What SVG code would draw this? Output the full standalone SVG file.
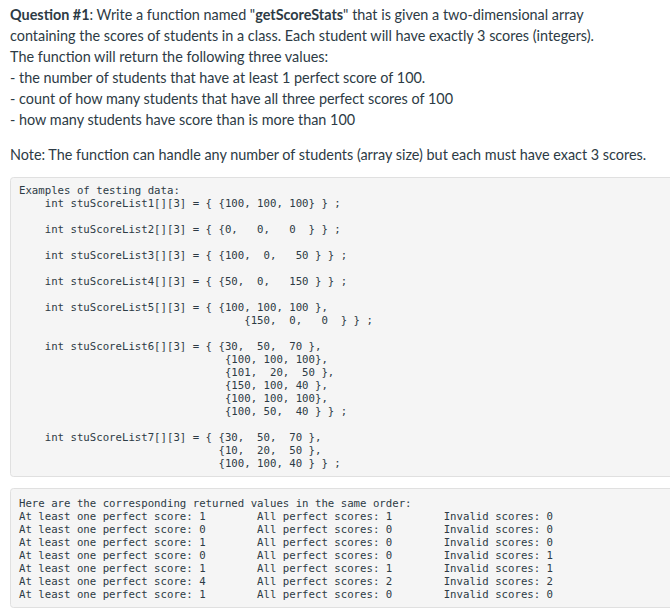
<svg xmlns="http://www.w3.org/2000/svg" width="670" height="613" viewBox="0 0 670 613">
<style>
.t{font-family:Lato,"Liberation Sans",sans-serif;font-size:14.4px;fill:#2d3b45}
.m{font-family:"DejaVu Sans Mono","Liberation Mono",monospace;font-size:10.7px;fill:#2d3b45;white-space:pre}
.box{fill:#f5f5f5;stroke:#e0e0e0}
</style>
<rect width="670" height="613" fill="#fff"/>
<g id="question">
<text class="t" x="10" y="20"><tspan font-weight="bold">Question #1</tspan>: Write a function named "<tspan font-weight="bold">getScoreStats</tspan>" that is given a two-dimensional array</text>
<text class="t" x="10" y="41">containing the scores of students in a class. Each student will have exactly 3 scores (integers).</text>
<text class="t" x="10" y="62">The function will return the following three values:</text>
<text class="t" x="10" y="83">- the number of students that have at least 1 perfect score of 100.</text>
<text class="t" x="10" y="104">- count of how many students that have all three perfect scores of 100</text>
<text class="t" x="10" y="125">- how many students have score than is more than 100</text>
<text class="t" x="10" y="160">Note: The function can handle any number of students (array size) but each must have exact 3 scores.</text>
</g>
<g id="examples">
<rect class="box" x="10.5" y="177.5" width="670" height="299" rx="3"/>
<text class="m" x="19" xml:space="preserve"><tspan x="19" y="194">Examples of testing data:</tspan><tspan x="19" y="207">    int stuScoreList1[][3] = { {100, 100, 100} } ;</tspan><tspan x="19" y="233">    int stuScoreList2[][3] = { {0,   0,   0  } } ;</tspan><tspan x="19" y="259">    int stuScoreList3[][3] = { {100,  0,   50 } } ;</tspan><tspan x="19" y="285">    int stuScoreList4[][3] = { {50,  0,   150 } } ;</tspan><tspan x="19" y="311">    int stuScoreList5[][3] = { {100, 100, 100 },</tspan><tspan x="19" y="324">                                   {150,  0,   0  } } ;</tspan><tspan x="19" y="350">    int stuScoreList6[][3] = { {30,  50,  70 },</tspan><tspan x="19" y="363">                                {100, 100, 100},</tspan><tspan x="19" y="376">                                {101,  20,  50 },</tspan><tspan x="19" y="389">                                {150, 100, 40 },</tspan><tspan x="19" y="402">                                {100, 100, 100},</tspan><tspan x="19" y="415">                                {100, 50,  40 } } ;</tspan><tspan x="19" y="441">    int stuScoreList7[][3] = { {30,  50,  70 },</tspan><tspan x="19" y="454">                               {10,  20,  50 },</tspan><tspan x="19" y="467">                               {100, 100, 40 } } ;</tspan></text>
</g>
<g id="results">
<rect class="box" x="10.5" y="488.5" width="670" height="119" rx="3"/>
<text class="m" x="19" xml:space="preserve"><tspan x="19" y="507">Here are the corresponding returned values in the same order:</tspan><tspan x="19" y="520">At least one perfect score: 1        All perfect scores: 1        Invalid scores: 0</tspan><tspan x="19" y="533">At least one perfect score: 0        All perfect scores: 0        Invalid scores: 0</tspan><tspan x="19" y="546">At least one perfect score: 1        All perfect scores: 0        Invalid scores: 0</tspan><tspan x="19" y="559">At least one perfect score: 0        All perfect scores: 0        Invalid scores: 1</tspan><tspan x="19" y="572">At least one perfect score: 1        All perfect scores: 1        Invalid scores: 1</tspan><tspan x="19" y="585">At least one perfect score: 4        All perfect scores: 2        Invalid scores: 2</tspan><tspan x="19" y="598">At least one perfect score: 1        All perfect scores: 0        Invalid scores: 0</tspan></text>
</g>
</svg>
